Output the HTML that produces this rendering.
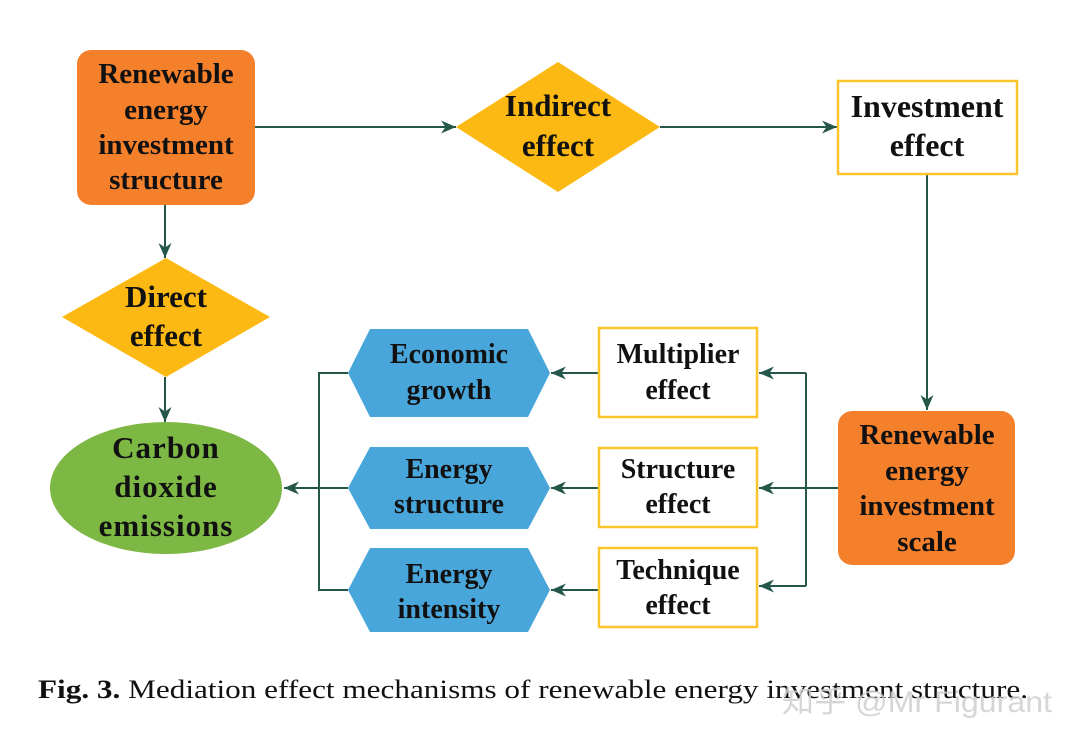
<!DOCTYPE html>
<html><head><meta charset="utf-8"><style>
html,body{margin:0;padding:0;background:#fff;}
svg{display:block}
text{font-family:"Liberation Serif",serif;font-weight:bold;fill:#111;text-anchor:middle}
</style></head><body>
<svg width="1081" height="750" viewBox="0 0 1081 750" xmlns="http://www.w3.org/2000/svg">
<defs>
<marker id="a" viewBox="0 0 10 10" refX="10" refY="5" markerWidth="15" markerHeight="13" markerUnits="userSpaceOnUse" orient="auto" preserveAspectRatio="none">
<path d="M0,0 L10,5 L0,10 L3,5 z" fill="#24574a"/></marker>
<style>.l{stroke:#24574a;stroke-width:2;fill:none}</style>
</defs>
<rect x="0" y="0" width="1081" height="750" fill="#fff"/>
<line class="l" x1="255" y1="127" x2="456" y2="127" marker-end="url(#a)"/>
<line class="l" x1="660" y1="127" x2="837" y2="127" marker-end="url(#a)"/>
<line class="l" x1="927" y1="175" x2="927" y2="410" marker-end="url(#a)"/>
<line class="l" x1="165" y1="205" x2="165" y2="258" marker-end="url(#a)"/>
<line class="l" x1="165" y1="377" x2="165" y2="422" marker-end="url(#a)"/>
<line class="l" x1="838" y1="488" x2="759" y2="488" marker-end="url(#a)"/>
<polyline class="l" points="806,373 806,586"/>
<line class="l" x1="806" y1="373" x2="759" y2="373" marker-end="url(#a)"/>
<line class="l" x1="806" y1="586" x2="759" y2="586" marker-end="url(#a)"/>
<line class="l" x1="598" y1="373" x2="551" y2="373" marker-end="url(#a)"/>
<line class="l" x1="598" y1="488" x2="551" y2="488" marker-end="url(#a)"/>
<line class="l" x1="598" y1="590" x2="551" y2="590" marker-end="url(#a)"/>
<polyline class="l" points="348,373 319,373 319,590 348,590"/>
<line class="l" x1="348" y1="488" x2="284" y2="488" marker-end="url(#a)"/>
<rect x="77" y="50" width="178" height="155" rx="14" fill="#f5802c"/>
<text font-size="29" x="166" y="83">Renewable</text>
<text font-size="29" x="166" y="119">energy</text>
<text font-size="29" x="166" y="154">investment</text>
<text font-size="29" x="166" y="189">structure</text>
<polygon points="558,62 660,127 558,192 456,127" fill="#fdb913"/>
<text font-size="31" x="558" y="116">Indirect</text>
<text font-size="31" x="558" y="156">effect</text>
<rect x="838" y="81" width="179" height="93" fill="#fff" stroke="#fdc52c" stroke-width="2.5"/>
<text font-size="32" x="927" y="117">Investment</text>
<text font-size="32" x="927" y="156">effect</text>
<polygon points="166,258 270,317 166,377 62,317" fill="#fdb913"/>
<text font-size="31" x="166" y="307">Direct</text>
<text font-size="31" x="166" y="346">effect</text>
<ellipse cx="166" cy="488" rx="116" ry="66" fill="#7cb843"/>
<text font-size="31" x="166" y="458" letter-spacing="1">Carbon</text>
<text font-size="31" x="166" y="497" letter-spacing="1">dioxide</text>
<text font-size="31" x="166" y="536" letter-spacing="1">emissions</text>
<rect x="838" y="411" width="177" height="154" rx="14" fill="#f5802c"/>
<text font-size="29" x="927" y="444">Renewable</text>
<text font-size="29" x="927" y="480">energy</text>
<text font-size="29" x="927" y="515">investment</text>
<text font-size="29" x="927" y="551">scale</text>
<polygon points="348,373 370,329 528,329 550,373 528,417 370,417" fill="#49a6db"/>
<text font-size="28" x="449" y="363">Economic</text>
<text font-size="28" x="449" y="399">growth</text>
<polygon points="348,488 370,447 528,447 550,488 528,529 370,529" fill="#49a6db"/>
<text font-size="28" x="449" y="478">Energy</text>
<text font-size="28" x="449" y="513">structure</text>
<polygon points="348,590 370,548 528,548 550,590 528,632 370,632" fill="#49a6db"/>
<text font-size="28" x="449" y="583">Energy</text>
<text font-size="28" x="449" y="618">intensity</text>
<rect x="599" y="328" width="158" height="89" fill="#fff" stroke="#fdc52c" stroke-width="2.5"/>
<text font-size="28" x="678" y="363">Multiplier</text>
<text font-size="28" x="678" y="399">effect</text>
<rect x="599" y="448" width="158" height="79" fill="#fff" stroke="#fdc52c" stroke-width="2.5"/>
<text font-size="28" x="678" y="478">Structure</text>
<text font-size="28" x="678" y="513">effect</text>
<rect x="599" y="548" width="158" height="79" fill="#fff" stroke="#fdc52c" stroke-width="2.5"/>
<text font-size="28" x="678" y="579">Technique</text>
<text font-size="28" x="678" y="614">effect</text>
<text x="38" y="698" font-size="26" textLength="990" lengthAdjust="spacingAndGlyphs" style="text-anchor:start;font-weight:normal"><tspan font-weight="bold">Fig. 3.</tspan>  Mediation effect mechanisms of renewable energy investment structure.</text>
<text x="782" y="712" font-size="30" textLength="270" lengthAdjust="spacingAndGlyphs" style="text-anchor:start;font-weight:normal;fill:#cfcfcf;fill-opacity:0.85;font-family:'Liberation Sans','Noto Sans CJK SC',sans-serif">知乎 @Mr Figurant</text>
</svg>
</body></html>
